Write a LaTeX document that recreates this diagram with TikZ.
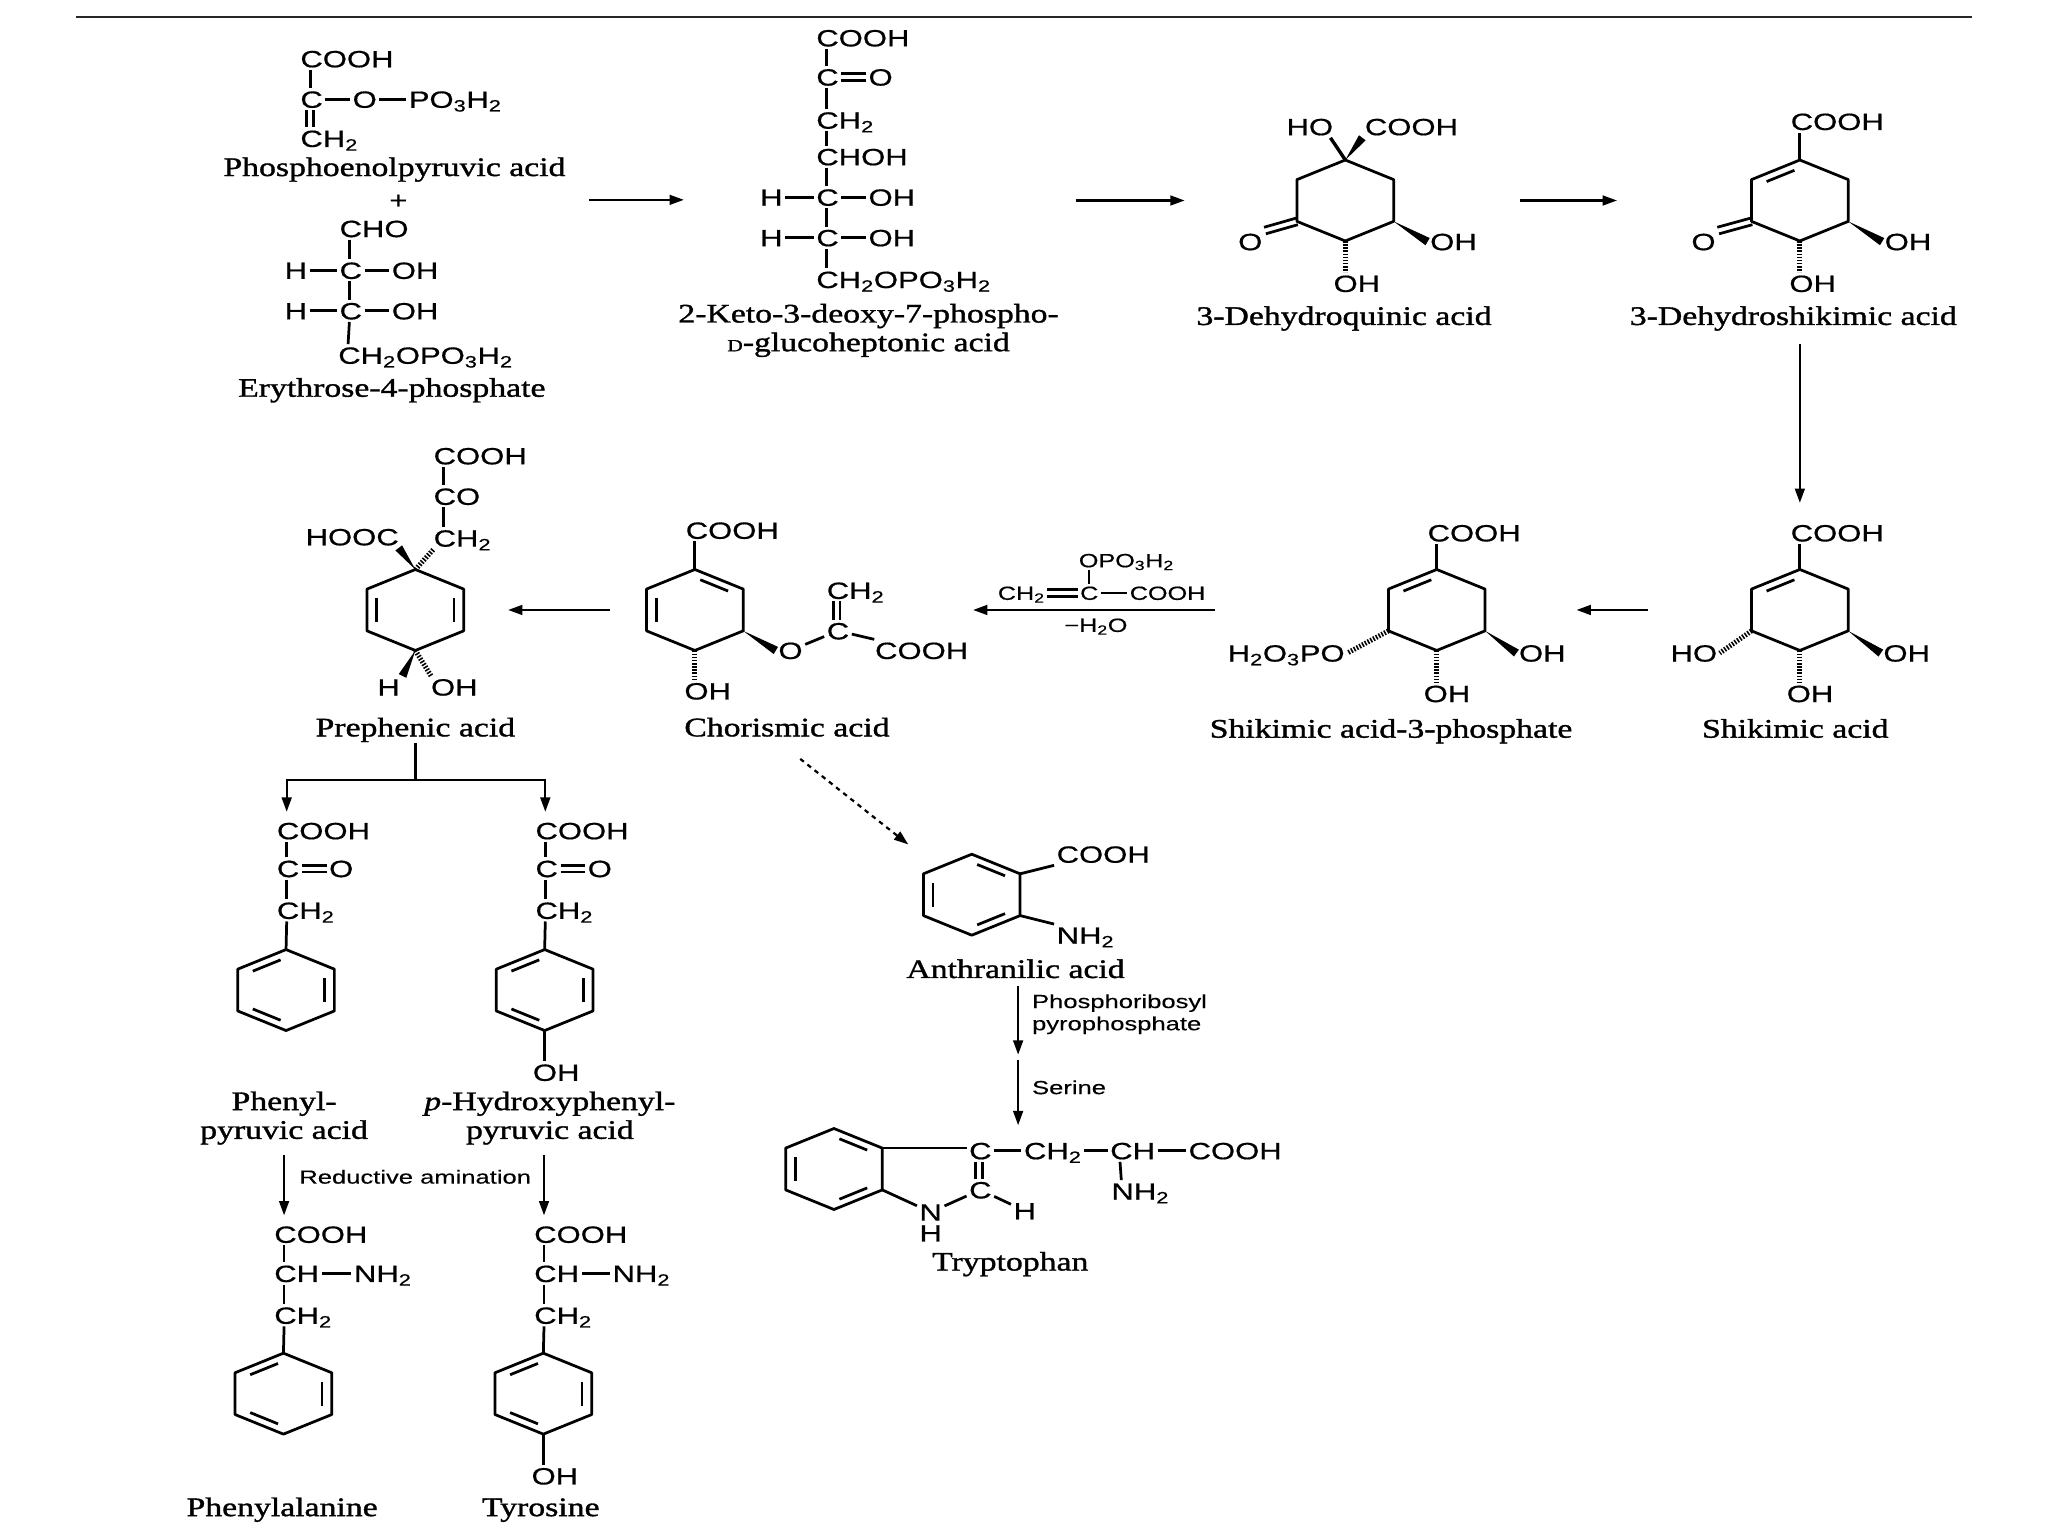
\documentclass[tikz,border=0pt]{standalone}
\usepackage{fontspec}
\usetikzlibrary{arrows.meta,calc,positioning}
\newfontfamily\chemface{Liberation Sans}[FakeStretch=1.32,FakeBold=0.6]
\newfontfamily\notesface{Liberation Sans}[FakeStretch=1.35,FakeBold=0.3]
\newfontfamily\nameface{Liberation Serif}[FakeStretch=1.26,FakeBold=1.3]
\tikzset{
    bond/.style   = {line width=2.1pt, line join=round},
    hash/.style   = {line width=3.8pt, dash pattern=on 1.2pt off 1.2pt},
    rxn/.style    = {line width=1.7pt, -{Triangle[length=11pt,width=7.5pt]}},
    chem/.style   = {font=\chemface\fontsize{18}{18}\selectfont, inner sep=0pt, outer sep=2pt,
        anchor=west, xshift=-2pt, text height=13pt, text depth=0pt},
    rxnchem/.style = {font=\chemface\fontsize{14.6}{14.6}\selectfont, inner sep=0pt, outer sep=2pt,
        anchor=west, xshift=-2pt, text height=10.5pt, text depth=0pt},
    note/.style   = {font=\notesface\fontsize{14.5}{17}\selectfont, inner sep=0pt, anchor=west},
    molname/.style = {font=\nameface\fontsize{20.5}{22}\selectfont, inner sep=0pt, align=center},
    onename/.style = {molname, text height=13.5pt, text depth=0pt},
}
% ring with vertices numbered clockwise from the top one
\newcommand{\hexring}[3]{%
    \coordinate (#1) at (#2,#3);
    \coordinate (#11) at ($(#1)+(0,-31)$);
    \coordinate (#12) at ($(#1)+(37,-16)$);
    \coordinate (#13) at ($(#1)+(37,16)$);
    \coordinate (#14) at ($(#1)+(0,31)$);
    \coordinate (#15) at ($(#1)+(-37,16)$);
    \coordinate (#16) at ($(#1)+(-37,-16)$);
    \draw [bond] (#11) -- (#12) -- (#13) -- (#14) -- (#15) -- (#16) -- cycle;
}
\newcommand{\innerbond}[3]{%
    \draw [bond] ($(#1#2)!.14!(#1#3)!.2!(#1)$) -- ($(#1#3)!.14!(#1#2)!.2!(#1)$);
}
\newcommand{\vbond}[2]{%
    \draw [bond] ([xshift=9.5pt]#1.south west) -- ([xshift=9.5pt]#2.north west);
}
\newcommand{\dbond}[2]{%
    \draw [bond] ($(#1)!2.6pt!90:(#2)$) -- ($(#2)!2.6pt!-90:(#1)$);
    \draw [bond] ($(#1)!2.6pt!-90:(#2)$) -- ($(#2)!2.6pt!90:(#1)$);
}
\newcommand{\wedgebond}[2]{%
    \fill ($(#2)!3.2pt!90:(#1)$) -- ($(#2)!3.2pt!-90:(#1)$) -- (#1) -- cycle;
}
\begin{document}
\begin{tikzpicture}[x=1pt, y=-1pt]
    \useasboundingbox (0,0) rectangle (1568,1176);
    \coordinate (rule_l) at (58,13);
    \coordinate (rule_r) at (1510,13);
    \draw [line width=1.3pt, black!85] (rule_l) -- (rule_r);

    % Top row, starting with the two substrates
    \node [chem] (pep_cooh) at (230,45) {COOH};
    \node [chem] (pep_c) at (230,76) {C};
    \node [chem] (pep_o) at (270,76) {O};
    \node [chem] (pep_p) at (313,76) {PO\textsubscript{3}H\textsubscript{2}};
    \node [chem] (pep_ch2) at (230,106) {CH\textsubscript{2}};
    \node [onename] (pep_name) at (302,128) {Phosphoenolpyruvic acid};
    \vbond{pep_cooh}{pep_c}
    \dbond{[xshift=9.5pt]pep_c.south west}{[xshift=9.5pt]pep_ch2.north west}
    \draw [bond] (pep_c) -- (pep_o);
    \draw [bond] (pep_o) -- (pep_p);

    \node [chem, anchor=center, xshift=2pt] (plus) at (305,153) {+};

    \node [chem] (e4p_cho) at (260,175) {CHO};
    \foreach \i/\y in {1/207,2/238}{
        \node [chem] (e4p_h\i) at (218,\y) {H};
        \node [chem] (e4p_c\i) at (260,\y) {C};
        \node [chem] (e4p_oh\i) at (300,\y) {OH};
        \draw [bond] (e4p_h\i) -- (e4p_c\i);
        \draw [bond] (e4p_c\i) -- (e4p_oh\i);
    }
    \node [chem] (e4p_p) at (259,272) {CH\textsubscript{2}OPO\textsubscript{3}H\textsubscript{2}};
    \node [onename] (e4p_name) at (300,297) {Erythrose-4-phosphate};
    \vbond{e4p_cho}{e4p_c1}
    \vbond{e4p_c1}{e4p_c2}
    \vbond{e4p_c2}{e4p_p}

    \node [chem] (kd_cooh) at (625,29) {COOH};
    \node [chem] (kd_c) at (625,59) {C};
    \node [chem] (kd_o) at (665,59) {O};
    \node [chem] (kd_ch2) at (625,92) {CH\textsubscript{2}};
    \node [chem] (kd_choh) at (625,120) {CHOH};
    \foreach \i/\y in {1/151,2/182}{
        \node [chem] (kd_h\i) at (582,\y) {H};
        \node [chem] (kd_c\i) at (625,\y) {C};
        \node [chem] (kd_oh\i) at (665,\y) {OH};
        \draw [bond] (kd_h\i) -- (kd_c\i);
        \draw [bond] (kd_c\i) -- (kd_oh\i);
    }
    \node [chem] (kd_p) at (625,214) {CH\textsubscript{2}OPO\textsubscript{3}H\textsubscript{2}};
    \node [molname] (kd_name) at (665,253) {2-Keto-3-deoxy-7-phospho-\\{\fontsize{13}{13}\selectfont D}-glucoheptonic acid};
    \vbond{kd_cooh}{kd_c}
    \dbond{kd_c.east}{kd_o.west}
    \vbond{kd_c}{kd_ch2}
    \vbond{kd_ch2}{kd_choh}
    \vbond{kd_choh}{kd_c1}
    \vbond{kd_c1}{kd_c2}
    \vbond{kd_c2}{kd_p}

    \hexring{dhq}{1030}{153.5}
    \node [chem] (dhq_ho) at (985,97) {HO};
    \node [chem] (dhq_cooh) at (1045,97) {COOH};
    \node [chem] (dhq_o) at (948,185) {O};
    \node [chem] (dhq_oh1) at (1095,185) {OH};
    \node [chem] (dhq_oh2) at (1021,217) {OH};
    \node [onename] (dhq_name) at (1029,242) {3-Dehydroquinic acid};
    \draw [line width=2.6pt] (dhq1) -- ([xshift=-4pt]dhq_ho.south east);
    \wedgebond{dhq1}{dhq_cooh.south west}
    \dbond{dhq5}{dhq_o.north east}
    \wedgebond{dhq3}{dhq_oh1.west}
    \draw [hash] (dhq4) -- (dhq4 |- dhq_oh2.north);

    \hexring{dhs}{1378}{153.5}
    \node [chem] (dhs_cooh) at (1371,93) {COOH};
    \node [chem] (dhs_o) at (1295,185) {O};
    \node [chem] (dhs_oh1) at (1443,185) {OH};
    \node [chem] (dhs_oh2) at (1370,217) {OH};
    \node [onename] (dhs_name) at (1373,242) {3-Dehydroshikimic acid};
    \draw [bond] (dhs1) -- (dhs1 |- dhs_cooh.south);
    \innerbond{dhs}{6}{1}
    \dbond{dhs5}{dhs_o.north east}
    \wedgebond{dhs3}{dhs_oh1.west}
    \draw [hash] (dhs4) -- (dhs4 |- dhs_oh2.north);

    % Second row, running from right to left
    \hexring{sa}{1378}{467}
    \node [chem] (sa_cooh) at (1371,408) {COOH};
    \node [chem] (sa_ho) at (1279,500) {HO};
    \node [chem] (sa_oh1) at (1442,500) {OH};
    \node [chem] (sa_oh2) at (1368,531) {OH};
    \node [onename] (sa_name) at (1374.5,558) {Shikimic acid};
    \draw [bond] (sa1) -- (sa1 |- sa_cooh.south);
    \innerbond{sa}{6}{1}
    \draw [hash] (sa5) -- (sa_ho.east);
    \wedgebond{sa3}{sa_oh1.west}
    \draw [hash] (sa4) -- (sa4 |- sa_oh2.north);

    \hexring{s3p}{1100}{467}
    \node [chem] (s3p_cooh) at (1093,408) {COOH};
    \node [chem] (s3p_p) at (940,500) {H\textsubscript{2}O\textsubscript{3}PO};
    \node [chem] (s3p_oh1) at (1163,500) {OH};
    \node [chem] (s3p_oh2) at (1090,531) {OH};
    \node [onename] (s3p_name) at (1065,558) {Shikimic acid-3-phosphate};
    \draw [bond] (s3p1) -- (s3p1 |- s3p_cooh.south);
    \innerbond{s3p}{6}{1}
    \draw [hash] (s3p5) -- (s3p_p.east);
    \wedgebond{s3p3}{s3p_oh1.west}
    \draw [hash] (s3p4) -- (s3p4 |- s3p_oh2.north);

    % what is written round the long arrow
    \node [rxnchem] (rx_o) at (826,429) {OPO\textsubscript{3}H\textsubscript{2}};
    \node [rxnchem] (rx_ch2) at (764,454) {CH\textsubscript{2}};
    \node [rxnchem] (rx_c) at (827,454) {C};
    \node [rxnchem] (rx_cooh) at (865,454) {COOH};
    \node [rxnchem] (rx_w) at (815,478.5) {−H\textsubscript{2}O};
    \dbond{rx_ch2.east}{rx_c.west}
    \draw [line width=1.4pt] (rx_c) -- (rx_cooh);
    \draw [line width=1.4pt] (rx_c) -- (rx_c |- rx_o.south);

    \hexring{cho}{532}{467}
    \node [chem] (cho_cooh) at (525,406) {COOH};
    \node [chem] (cho_o) at (596,498) {O};
    \node [chem] (cho_c) at (633,483) {C};
    \node [chem] (cho_ch2) at (633,452) {CH\textsubscript{2}};
    \node [chem] (cho_cooh2) at (670,498) {COOH};
    \node [chem] (cho_oh) at (524,529) {OH};
    \node [onename] (cho_name) at (602.5,557) {Chorismic acid};
    \draw [bond] (cho1) -- (cho1 |- cho_cooh.south);
    \innerbond{cho}{1}{2}
    \innerbond{cho}{5}{6}
    \wedgebond{cho3}{cho_o.west}
    \draw [bond] (cho_o) -- (cho_c);
    \draw [bond] (cho_c) -- (cho_cooh2);
    \dbond{[xshift=9.5pt]cho_c.north west}{[xshift=9.5pt]cho_ch2.south west}
    \draw [hash] (cho4) -- (cho4 |- cho_oh.north);

    \hexring{pre}{318}{467}
    \node [chem] (pre_cooh) at (332,349) {COOH};
    \node [chem] (pre_co) at (332,380) {CO};
    \node [chem] (pre_ch2) at (332,412) {CH\textsubscript{2}};
    \node [chem] (pre_hooc) at (234,411) {HOOC};
    \node [chem] (pre_h) at (289,526) {H};
    \node [chem] (pre_oh) at (330,526) {OH};
    \node [onename] (pre_name) at (318,557) {Prephenic acid};
    \vbond{pre_cooh}{pre_co}
    \vbond{pre_co}{pre_ch2}
    \innerbond{pre}{5}{6}
    \innerbond{pre}{2}{3}
    \wedgebond{pre1}{[xshift=-2pt]pre_hooc.south east}
    \draw [hash] (pre1) -- ([xshift=2pt]pre_ch2.south west);
    \wedgebond{pre4}{pre_h.north east}
    \draw [hash] (pre4) -- ([xshift=2pt]pre_oh.north west);

    % Lower left, the two branches after prephenic acid
    \node [chem] (ppa_cooh) at (212,636) {COOH};
    \node [chem] (ppa_c) at (212,665) {C};
    \node [chem] (ppa_o) at (252,665) {O};
    \node [chem] (ppa_ch2) at (212,697) {CH\textsubscript{2}};
    \hexring{ppa}{219}{758}
    \node [molname] (ppa_name) at (217.5,856) {Phenyl-\\pyruvic acid};
    \vbond{ppa_cooh}{ppa_c}
    \dbond{ppa_c.east}{ppa_o.west}
    \vbond{ppa_c}{ppa_ch2}
    \draw [bond] ([xshift=9.5pt]ppa_ch2.south west) -- (ppa1);
    \innerbond{ppa}{6}{1}
    \innerbond{ppa}{2}{3}
    \innerbond{ppa}{4}{5}

    \node [chem] (hppa_cooh) at (410,636) {COOH};
    \node [chem] (hppa_c) at (410,665) {C};
    \node [chem] (hppa_o) at (450,665) {O};
    \node [chem] (hppa_ch2) at (410,697) {CH\textsubscript{2}};
    \hexring{hppa}{417}{758}
    \node [chem] (hppa_oh) at (408,821) {OH};
    \node [molname] (hppa_name) at (421,856) {\textit{p}-Hydroxyphenyl-\\pyruvic acid};
    \vbond{hppa_cooh}{hppa_c}
    \dbond{hppa_c.east}{hppa_o.west}
    \vbond{hppa_c}{hppa_ch2}
    \draw [bond] ([xshift=9.5pt]hppa_ch2.south west) -- (hppa1);
    \innerbond{hppa}{6}{1}
    \innerbond{hppa}{2}{3}
    \innerbond{hppa}{4}{5}
    \draw [bond] (hppa4) -- (hppa4 |- hppa_oh.north);

    \node [note] (ra_note) at (229,901) {Reductive amination};

    \node [chem] (phe_cooh) at (210,945) {COOH};
    \node [chem] (phe_ch) at (210,975) {CH};
    \node [chem] (phe_nh2) at (271,975) {NH\textsubscript{2}};
    \node [chem] (phe_ch2) at (210,1007) {CH\textsubscript{2}};
    \hexring{phe}{217}{1067}
    \node [onename] (phe_name) at (216,1154) {Phenylalanine};
    \vbond{phe_cooh}{phe_ch}
    \draw [bond] (phe_ch) -- (phe_nh2);
    \vbond{phe_ch}{phe_ch2}
    \draw [bond] ([xshift=9.5pt]phe_ch2.south west) -- (phe1);
    \innerbond{phe}{6}{1}
    \innerbond{phe}{2}{3}
    \innerbond{phe}{4}{5}

    \node [chem] (tyr_cooh) at (409,945) {COOH};
    \node [chem] (tyr_ch) at (409,975) {CH};
    \node [chem] (tyr_nh2) at (469,975) {NH\textsubscript{2}};
    \node [chem] (tyr_ch2) at (409,1007) {CH\textsubscript{2}};
    \hexring{tyr}{416}{1067}
    \node [chem] (tyr_oh) at (407,1130) {OH};
    \node [onename] (tyr_name) at (414,1154) {Tyrosine};
    \vbond{tyr_cooh}{tyr_ch}
    \draw [bond] (tyr_ch) -- (tyr_nh2);
    \vbond{tyr_ch}{tyr_ch2}
    \draw [bond] ([xshift=9.5pt]tyr_ch2.south west) -- (tyr1);
    \innerbond{tyr}{6}{1}
    \innerbond{tyr}{2}{3}
    \innerbond{tyr}{4}{5}
    \draw [bond] (tyr4) -- (tyr4 |- tyr_oh.north);

    % Towards tryptophan
    \hexring{ant}{744}{685}
    \node [chem] (ant_cooh) at (809,654) {COOH};
    \node [chem] (ant_nh2) at (809,716) {NH\textsubscript{2}};
    \node [onename] (ant_name) at (777.5,742) {Anthranilic acid};
    \draw [bond] (ant2) -- (ant_cooh.south west);
    \draw [bond] (ant3) -- (ant_nh2.north west);
    \innerbond{ant}{1}{2}
    \innerbond{ant}{5}{6}
    \innerbond{ant}{3}{4}

    \node [note, align=left] (pp_note) at (790,776.5) {Phosphoribosyl\\pyrophosphate};
    \node [note] (ser_note) at (790,832.5) {Serine};
    \coordinate (trp_mid) at (779.5,809.5);

    \hexring{trp}{638.5}{895}
    \node [chem] (trp_c) at (742,881) {C};
    \node [chem] (trp_ch2) at (784,881) {CH\textsubscript{2}};
    \node [chem] (trp_ch) at (850,881) {CH};
    \node [chem] (trp_cooh) at (910,881) {COOH};
    \node [chem] (trp_nh2) at (851,912) {NH\textsubscript{2}};
    \node [chem] (trp_c2) at (742,911) {C};
    \node [chem] (trp_n) at (704,928) {N};
    \node [chem] (trp_nh) at (704,944) {H};
    \node [chem] (trp_h) at (776,927) {H};
    \node [onename] (trp_name) at (773.5,966) {Tryptophan};
    \innerbond{trp}{1}{2}
    \innerbond{trp}{5}{6}
    \innerbond{trp}{3}{4}
    \draw [bond] (trp2) -- (trp2 -| trp_c.west);
    \draw [bond] (trp_c) -- (trp_ch2);
    \draw [bond] (trp_ch2) -- (trp_ch);
    \draw [bond] (trp_ch) -- (trp_cooh);
    \vbond{trp_ch}{trp_nh2}
    \dbond{[xshift=9.5pt]trp_c.south west}{[xshift=9.5pt]trp_c2.north west}
    \draw [bond] (trp3) -- (trp_n);
    \draw [bond] (trp_n) -- (trp_c2);
    \draw [bond] (trp_c2) -- (trp_h);

    % Once the molecules are placed, connecting them is easy.
    \draw [rxn, shorten <=137pt, shorten >=67pt] (plus) -- (plus -| kd_h1);
    \draw [rxn, shorten <=190pt, shorten >=123pt] (dhq -| kd_c1) -- (dhq);
    \draw [rxn, shorten <=134pt, shorten >=140pt] (dhq) -- (dhs);
    \draw [rxn, shorten <=110pt, shorten >=82pt] (dhs) -- (sa);
    \draw [rxn, shorten <=116pt, shorten >=107pt] (sa) -- (s3p);
    \draw [rxn, shorten <=170pt, shorten >=213pt] (s3p) -- (cho);
    \draw [rxn, shorten <=65pt, shorten >=71pt] (cho) -- (pre);

    \coordinate (pre_split) at (318,597);
    \draw [bond, shorten <=5pt] (pre_name.south) -- (pre_split);
    \draw [rxn, shorten >=6pt] (pre_split) -| ([xshift=9.5pt]ppa_cooh.north west);
    \draw [rxn, shorten >=6pt] (pre_split) -| ([xshift=9.5pt]hppa_cooh.north west);

    \draw [rxn, shorten <=8pt, shorten >=6pt] (ppa_name.south) -- ([xshift=9.5pt]phe_cooh.north west);
    \draw [rxn, shorten <=8pt, shorten >=6pt] ([xshift=9.5pt]tyr_cooh.north west |- hppa_name.south) -- ([xshift=9.5pt]tyr_cooh.north west);

    \draw [rxn, dash pattern=on 3.5pt off 3.5pt, shorten <=13pt, shorten >=62pt] ([yshift=-9pt]cho_name.south) -- (ant);
    \draw [rxn, shorten <=6pt, shorten >=2pt] (ant_name.south -| trp_mid) -- (trp_mid);
    \draw [rxn, shorten <=2pt, shorten >=11pt] (trp_mid) -- (trp_mid |- trp_ch2.north);
\end{tikzpicture}
\end{document}
